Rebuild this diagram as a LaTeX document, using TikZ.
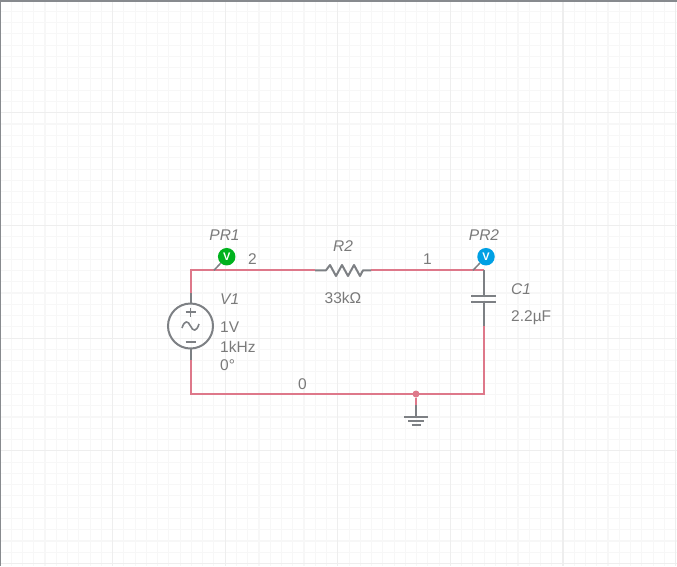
\documentclass[tikz,border=0pt]{standalone}
\usepackage{fontspec}
\setmainfont{Liberation Sans}
\definecolor{gridminor}{RGB}{247,247,247}
\definecolor{gridmajor}{RGB}{238,238,238}
\definecolor{wirepink}{RGB}{222,120,138}
\definecolor{partgrey}{RGB}{125,128,132}
\definecolor{labelgrey}{RGB}{122,122,122}
\definecolor{frameg}{RGB}{135,138,142}
\definecolor{probegreen}{RGB}{0,178,30}
\definecolor{probeblue}{RGB}{0,160,228}
\tikzset{
  wire/.style={draw=wirepink,line width=2pt},
  part/.style={draw=partgrey,line width=2pt},
  lbl/.style={text=labelgrey,font=\fontsize{15.5}{17}\selectfont,inner sep=0pt},
  ilbl/.style={lbl,font=\fontsize{15.5}{17}\selectfont\itshape},
  probe/.style={circle,minimum size=17.5pt,inner sep=0pt,text=white,font=\fontsize{11}{12}\selectfont\bfseries},
  junction/.style={circle,fill=wirepink,minimum size=7pt,inner sep=0pt},
}
\begin{document}
\begin{tikzpicture}[x=1pt,y=-1pt]
\useasboundingbox (0,0) rectangle (677,566);
\fill[white] (0,0) rectangle (677,566);
% grid
\foreach \i in {0,...,60}{
  \draw[gridminor,line width=1.1pt] ({\i*11.26},0) -- ({\i*11.26},566);
}
\foreach \i in {0,...,50}{
  \draw[gridminor,line width=1.1pt] (0,{\i*11.27}) -- (677,{\i*11.27});
}
\foreach \i in {1,...,6}{
  \draw[gridmajor,line width=1.2pt] ({\i*112.6},0) -- ({\i*112.6},566);
}
\foreach \i in {1,...,5}{
  \draw[gridmajor,line width=1.2pt] (0,{\i*112.7}) -- (677,{\i*112.7});
}
\fill[frameg] (0,0) rectangle (677,1.5);
\fill[frameg] (0,0) rectangle (1.2,566);
% corner and lead coordinates
\coordinate (tl) at (190.5,270.3);
\coordinate (tr) at (483.5,270.3);
\coordinate (bl) at (190.5,394);
\coordinate (br) at (483.5,394);
\coordinate (vt) at (190.5,293);
\coordinate (vb) at (190.5,360);
\coordinate (vti) at (190.5,303);
\coordinate (vbi) at (190.5,349);
\coordinate (rl) at (315,270.3);
\coordinate (rr) at (371,270.3);
\coordinate (cb) at (483.5,326);
\coordinate (ct) at (483.5,295.7);
\coordinate (cbi) at (483.5,301.7);
\coordinate (gp) at (416,405);
\coordinate (gt) at (416,417);
\node[junction] (j) at (416,394) {};
% wires
\draw[wire] (vt) -- (tl) -- (rl);
\draw[wire] (rr) -- (tr);
\draw[wire] (vb) -- (bl) -- (br) -- (cb);
\draw[wire] (j) -- (gp);
% source
\node[circle,part,minimum size=45pt,inner sep=0pt] (vs) at (190.5,326) {};
\draw[part] (vt) -- (vti);
\draw[part] (vbi) -- (vb);
\draw[part,line width=1.6pt] (185.5,312) -- (195.5,312) (190.5,307.5) -- (190.5,316.5);
\draw[part,line width=1.6pt] (185.5,342) -- (195.5,342);
\draw[part,line width=1.6pt] (182,328) .. controls (184.5,320) and (188,320.5) .. (190.5,326) .. controls (193,331.5) and (196.5,332) .. (199,324);
% resistor
\draw[part,line join=round] (rl) -- (326,270.3) -- (330,265) -- (336,276) -- (342,265) -- (348,276) -- (354,265) -- (360,276) -- (363,270.3) -- (rr);
% capacitor
\draw[part] (tr) -- (ct);
\draw[part] (cbi) -- (cb);
\draw[part,line width=2.4pt] (471,295.7) -- (496,295.7);
\draw[part,line width=2.4pt] (471,301.7) -- (496,301.7);
% ground
\draw[part] (gp) -- (gt);
\draw[part,line width=2.2pt] (404,417) -- (428,417);
\draw[part,line width=1.8pt] (408,421) -- (424,421);
\draw[part,line width=1.8pt] (411.5,424.6) -- (420.5,424.6);
% probes
\coordinate (p1w) at (214,270.3);
\coordinate (p2w) at (473,270.3);
\node[probe,fill=probegreen] (p1) at (226.7,256.7) {V};
\node[probe,fill=probeblue] (p2) at (486,256.7) {V};
\draw[part,line width=1.5pt] (p1w) -- (p1);
\draw[part,line width=1.5pt] (p2w) -- (p2);
% labels
\node[ilbl] (lpr1) at (224.5,235.2) {PR1};
\node[ilbl] (lpr2) at (484,235.2) {PR2};
\node[lbl] (n2) at (252.5,259.5) {2};
\node[lbl] (n1) at (427.5,259.5) {1};
\node[lbl] (n0) at (302.5,384) {0};
\node[ilbl] (lr2) at (343,246) {R2};
\node[lbl] (vr2) at (343,297.5) {33kΩ};
\node[ilbl] (lc1) at (521,289.5) {C1};
\node[lbl,anchor=west] (vc1) at (511,318) {2.2µF};
\node[ilbl,anchor=west] (lv1) at (220,299) {V1};
\node[lbl,anchor=west] (v1a) at (220,327.5) {1V};
\node[lbl,anchor=west] (v1b) at (220,346.5) {1kHz};
\node[lbl,anchor=west] (v1c) at (220,365) {0°};
\end{tikzpicture}
\end{document}
